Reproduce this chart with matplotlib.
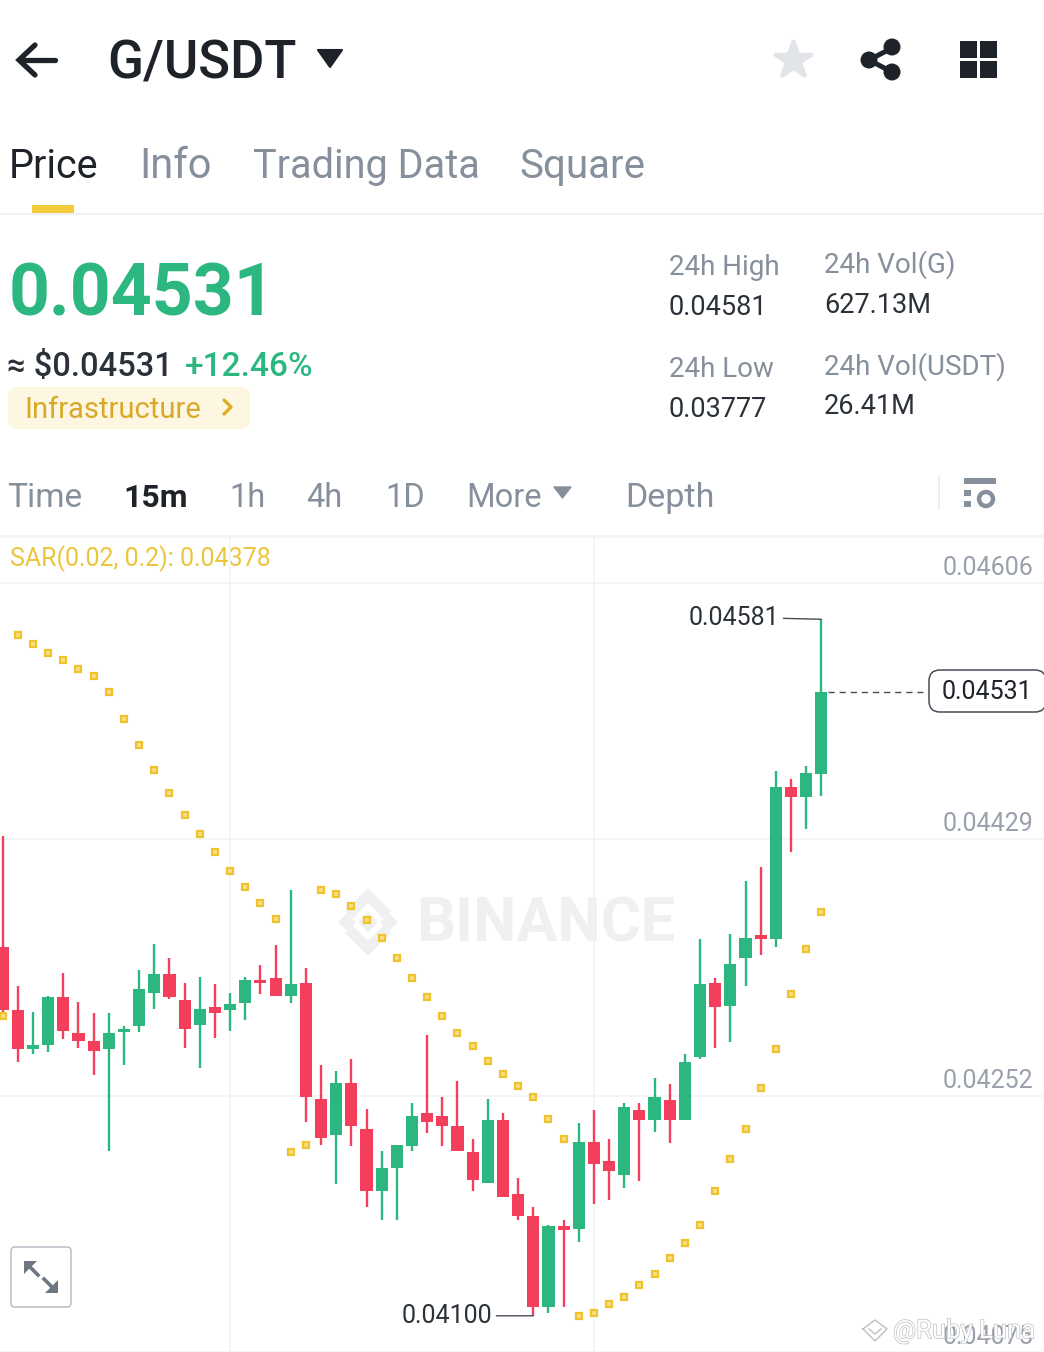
import matplotlib
matplotlib.use("Agg")
import matplotlib.pyplot as plt
from matplotlib.patches import FancyBboxPatch, Polygon, Rectangle, Circle
from matplotlib.transforms import ScaledTranslation
import matplotlib.patheffects as pe

plt.rcParams['font.family'] = ['Roboto', 'DejaVu Sans']

# candles, oldest first
opens = [0.04355, 0.04311, 0.04284, 0.04287, 0.04320, 0.04295, 0.04290, 0.04284, 0.04296, 0.04300, 0.04323,
         0.04336, 0.04318, 0.04301, 0.04313, 0.04311, 0.04316, 0.04332, 0.04333, 0.04321, 0.04330, 0.04250,
         0.04225, 0.04261, 0.04229, 0.04186, 0.04202, 0.04217, 0.04240, 0.04238, 0.04231, 0.04213, 0.04192,
         0.04235, 0.04184, 0.04169, 0.04106, 0.04162, 0.04160, 0.04220, 0.04207, 0.04197, 0.04242, 0.04235,
         0.04249, 0.04235, 0.04279, 0.04330, 0.04314, 0.04347, 0.04363, 0.04360, 0.04465, 0.04458, 0.04474]
closes = [0.04311, 0.04284, 0.04287, 0.04320, 0.04297, 0.04290, 0.04283, 0.04295, 0.04298, 0.04326, 0.04336,
          0.04320, 0.04298, 0.04312, 0.04309, 0.04315, 0.04332, 0.04330, 0.04321, 0.04329, 0.04251, 0.04223,
          0.04261, 0.04231, 0.04186, 0.04202, 0.04218, 0.04238, 0.04234, 0.04231, 0.04214, 0.04194, 0.04235,
          0.04182, 0.04169, 0.04106, 0.04162, 0.04159, 0.04220, 0.04205, 0.04200, 0.04244, 0.04235, 0.04251,
          0.04235, 0.04275, 0.04329, 0.04313, 0.04343, 0.04361, 0.04360, 0.04465, 0.04458, 0.04475, 0.04531]
highs = [0.04431, 0.04328, 0.04310, 0.04321, 0.04337, 0.04317, 0.04309, 0.04309, 0.04300, 0.04339, 0.04357,
         0.04347, 0.04330, 0.04334, 0.04329, 0.04323, 0.04334, 0.04342, 0.04356, 0.04394, 0.04340, 0.04273,
         0.04269, 0.04277, 0.04243, 0.04214, 0.04218, 0.04247, 0.04294, 0.04251, 0.04262, 0.04222, 0.04250,
         0.04240, 0.04195, 0.04175, 0.04163, 0.04166, 0.04233, 0.04242, 0.04222, 0.04247, 0.04247, 0.04264,
         0.04260, 0.04281, 0.04360, 0.04333, 0.04364, 0.04400, 0.04410, 0.04476, 0.04471, 0.04480, 0.04581]
lows = [0.04310, 0.04275, 0.04281, 0.04282, 0.04291, 0.04285, 0.04266, 0.04214, 0.04273, 0.04296, 0.04312,
        0.04319, 0.04285, 0.04271, 0.04292, 0.04297, 0.04304, 0.04322, 0.04321, 0.04316, 0.04234, 0.04218,
        0.04191, 0.04217, 0.04175, 0.04166, 0.04166, 0.04214, 0.04226, 0.04217, 0.04214, 0.04186, 0.04192,
        0.04182, 0.04166, 0.04100, 0.04102, 0.04106, 0.04151, 0.04177, 0.04180, 0.04188, 0.04193, 0.04227,
        0.04219, 0.04235, 0.04277, 0.04285, 0.04289, 0.04328, 0.04349, 0.04355, 0.04420, 0.04436, 0.04459]
# parabolic SAR, one value per candle
sar = [0.04307, 0.04570, 0.04564, 0.04558, 0.04553, 0.04547, 0.04542, 0.04531, 0.04512, 0.04494, 0.04477,
       0.04461, 0.04446, 0.04433, 0.04420, 0.04407, 0.04396, 0.04385, 0.04374, 0.04213, 0.04218, 0.04394,
       0.04391, 0.04383, 0.04373, 0.04361, 0.04347, 0.04333, 0.04320, 0.04307, 0.04295, 0.04286, 0.04276,
       0.04267, 0.04259, 0.04251, 0.04236, 0.04222, 0.04100, 0.04102, 0.04108, 0.04113, 0.04121, 0.04129,
       0.04140, 0.04150, 0.04163, 0.04186, 0.04208, 0.04229, 0.04257, 0.04284, 0.04322, 0.04353, 0.04379]
price_ticks = [0.04606, 0.04429, 0.04252, 0.04075]
price_labels = ['0.04606', '0.04429', '0.04252', '0.04075']
grid_candles = [15, 39]

GREEN = '#2CB780'
RED = '#F33F5B'
DARK = '#1E2329'
GRAY = '#868F9C'
GOLD = '#EBC53C'

W, H = 1044, 1352
fig = plt.figure(figsize=(W / 100, H / 100), dpi=100, facecolor='white')

# page furniture, in pixel coordinates
ui = fig.add_axes([0, 0, 1, 1], zorder=0)
ui.set_xlim(0, W)
ui.set_ylim(H, 0)
ui.axis('off')

def label(x, y, s, size, color=GRAY, weight='normal', **kw):
    return ui.text(x - 1, y, s, fontsize=size, color=color, fontweight=weight, va='baseline', **kw)

# top bar
ui.plot([20, 55], [60, 60], color=DARK, lw=3.8, solid_capstyle='round')
ui.plot([35, 19, 35], [45, 60, 75], color=DARK, lw=3.8, solid_capstyle='round', solid_joinstyle='miter')
label(108, 79, 'G/USDT', 38, DARK, 'medium')
ui.add_patch(Polygon([(318, 50), (342, 50), (330, 67)], fc=DARK, ec=DARK, lw=1.5, joinstyle='round'))
ui.plot([793], [60], marker='*', ms=29, color='#E1E4E8', mec='#E1E4E8', mew=2.5)
for a, b in [((892, 48), (869, 60)), ((892, 72), (869, 60))]:
    ui.plot([a[0], b[0]], [a[1], b[1]], color=DARK, lw=3.6)
for c in [(892, 47), (869, 60), (892, 72)]:
    ui.add_patch(Circle(c, 8.5, fc=DARK, ec='none'))
for x0 in (960, 980):
    for y0 in (41, 61):
        ui.add_patch(Rectangle((x0, y0), 17, 17, fc=DARK, ec='none'))

# tabs
label(10, 178, 'Price', 28.5, DARK)
label(140, 178, 'Info', 30)
label(254, 178, 'Trading Data', 28.5)
label(520, 178, 'Square', 29)
ui.add_patch(Rectangle((32, 205), 42, 8, fc='#F3CC3C', ec='none'))
ui.plot([0, W], [214, 214], color='#F0F1F3', lw=1.5)

# price block
label(10, 315, '0.04531', 51.5, GREEN, 'bold')
label(8, 376, '≈ $0.04531', 23.5, '#2B3139', 'medium')
label(186, 376, '+12.46%', 24, GREEN, 'medium')
ui.add_patch(FancyBboxPatch((16, 395), 226, 26, boxstyle='round,pad=8,rounding_size=10', fc='#FDF6E0', ec='none'))
label(25, 418, 'Infrastructure', 21, '#D8A928')
ui.plot([224, 231, 224], [400, 407, 414], color='#E0AE25', lw=2.4, solid_capstyle='round')

label(670, 275, '24h High', 20)
label(670, 315, '0.04581', 19.5, '#2B3139')
label(825, 273, '24h Vol(G)', 20)
label(825, 313, '627.13M', 19.5, '#2B3139')
label(670, 377, '24h Low', 20)
label(670, 417, '0.03777', 19.5, '#2B3139')
label(825, 375, '24h Vol(USDT)', 20)
label(825, 414, '26.41M', 19.5, '#2B3139')

# interval row
label(8, 507, 'Time', 24)
label(124, 507, '15m', 23, DARK, 'bold')
label(230, 507, '1h', 23.5)
label(307, 507, '4h', 23.5)
label(386, 507, '1D', 23.5)
label(467, 507, 'More', 23.5)
ui.add_patch(Polygon([(554, 487), (571, 487), (562.5, 498)], fc=GRAY, ec=GRAY, lw=1, joinstyle='round'))
label(626, 507, 'Depth', 24.5)
ui.plot([939, 939], [477, 509], color='#ECEEF0', lw=1.5)
ui.add_patch(Rectangle((964, 478), 32, 6, fc=GRAY, ec='none'))
ui.add_patch(Rectangle((964, 490), 7, 6, fc=GRAY, ec='none'))
ui.add_patch(Rectangle((964, 501), 7, 6, fc=GRAY, ec='none'))
ui.add_patch(Circle((986, 499), 7, fc='white', ec=GRAY, lw=3.2))
ui.plot([0, W], [536, 536], color='#F3F4F5', lw=2.4)

label(11, 566, 'SAR(0.02, 0.2): 0.04378', 18, GOLD)

# watermark behind the candles
WM = '#EFF0F2'
for cx, cy, r in [(368, 922, 10), (347, 922, 9), (389, 922, 9)]:
    ui.add_patch(Polygon([(cx - r, cy), (cx, cy - r), (cx + r, cy), (cx, cy + r)], fc=WM, ec='none'))
ui.add_patch(Polygon([(368, 888), (391, 911), (383, 918), (368, 903), (353, 918), (345, 911)], fc=WM, ec='none'))
ui.add_patch(Polygon([(368, 956), (391, 933), (383, 926), (368, 941), (353, 926), (345, 933)], fc=WM, ec='none'))
label(417, 942, 'BINANCE', 44, '#EFF0F2', 'bold')

# expand button
ui.add_patch(FancyBboxPatch((13, 1249), 56, 56, boxstyle='round,pad=2,rounding_size=4', fc='white', ec='#B9BEC6', lw=1.1))
ui.plot([28, 38], [1265, 1275], color='#6E7682', lw=2.6)
ui.plot([44, 54], [1279, 1289], color='#6E7682', lw=2.6)
ui.add_patch(Polygon([(24, 1261), (37, 1261), (24, 1274)], fc='#6E7682', ec='none'))
ui.add_patch(Polygon([(58, 1293), (45, 1293), (58, 1280)], fc='#6E7682', ec='none'))

# box of the last price, the text itself goes on the chart
ui.add_patch(FancyBboxPatch((938, 679), 99, 24, boxstyle='round,pad=9,rounding_size=11', fc='white', ec='#474D57', lw=1.1))

# price chart: one candle every 15.16 px, first one at x=2.7
ax = fig.add_axes([0, 0, 1, (H - 536) / H], zorder=1)
ax.patch.set_visible(False)
for s in ax.spines.values():
    s.set_visible(False)
ax.set_xlim(-0.178, 68.69)
ax.set_ylim(0.04075, 0.046385)
ax.set_yticks(price_ticks)
ax.set_yticklabels(price_labels, ha='right', va='bottom', fontsize=18, color='#9AA1AC')
ax.yaxis.tick_right()
ax.tick_params(axis='y', length=0, pad=-7.5)
# labels sit a little higher than the tick position
up = ScaledTranslation(0, 3 / 100, fig.dpi_scale_trans)
for t in ax.get_yticklabels():
    t.set_transform(t.get_transform() + up)
ax.set_xticks(grid_candles)
ax.tick_params(axis='x', length=0, labelbottom=False)
ax.grid(True, color='#F1F2F3', lw=1.1)
ax.set_axisbelow(True)

xs = list(range(len(opens)))
colors = [GREEN if c >= o else RED for o, c in zip(opens, closes)]
ax.vlines(xs, lows, highs, colors=colors, lw=1.7, zorder=3)
ax.bar(xs, [abs(c - o) for o, c in zip(opens, closes)], bottom=[min(o, c) for o, c in zip(opens, closes)],
       width=0.8, color=colors, zorder=3)
ax.plot(xs, sar, ls='none', marker='s', ms=4.9, mfc='#F8DF86', mec='#EFC32B', mew=1.6, zorder=4)

# high / low callouts and last price
hi = highs.index(max(highs))
lo = lows.index(min(lows))
ax.annotate('%.5f' % highs[hi], xy=(hi, highs[hi]), xytext=(-42, 1), textcoords='offset pixels',
            ha='right', va='center', fontsize=18, color='#2B3139',
            arrowprops=dict(arrowstyle='-', color='#474D57', lw=1, shrinkA=1, shrinkB=0, relpos=(1, 0.5)))
ax.annotate('%.5f' % lows[lo], xy=(lo, lows[lo]), xytext=(-41, 0), textcoords='offset pixels',
            ha='right', va='center', fontsize=18, color='#2B3139',
            arrowprops=dict(arrowstyle='-', color='#474D57', lw=1, shrinkA=1, shrinkB=0, relpos=(1, 0.5)))
ax.plot([xs[-1] + 0.42, 60.7], [closes[-1], closes[-1]], color='#474D57', lw=1, dashes=(4.5, 3.5))
ax.text(0.9885, closes[-1], '%.5f' % closes[-1], transform=ax.get_yaxis_transform(), ha='right', va='center',
        fontsize=18, color=DARK, zorder=5)

# photo credit on top of everything
wm = fig.text(893 / W, 1 - 1338 / H, '@Ruby Luna', fontsize=18.5, color='white', zorder=10)
wm.set_path_effects([pe.withStroke(linewidth=1.0, foreground='#BDBFC3')])
ui2 = fig.add_axes([0, 0, 1, 1], zorder=9)
ui2.set_xlim(0, W)
ui2.set_ylim(H, 0)
ui2.axis('off')
ui2.plot([863, 875, 887, 875, 863], [1329, 1320, 1329, 1341, 1329], color='#BDBFC3', lw=1)
ui2.plot([869, 875, 881], [1329, 1334, 1329], color='#BDBFC3', lw=1)

fig.savefig('out.png', dpi=100)
